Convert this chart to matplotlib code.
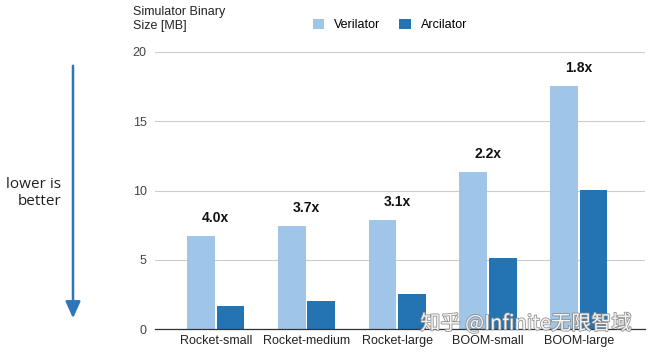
import matplotlib
matplotlib.use("Agg")
import matplotlib.pyplot as plt
import matplotlib.patheffects as pe
import numpy as np

categories = ["Rocket-small", "Rocket-medium", "Rocket-large", "BOOM-small", "BOOM-large"]
verilator = [6.7, 7.45, 7.85, 11.35, 17.55]
arcilator = [1.65, 2.0, 2.5, 5.15, 10.05]
speedups = ["4.0x", "3.7x", "3.1x", "2.2x", "1.8x"]
yticks = [0, 5, 10, 15, 20]

plt.rcParams['font.family'] = ['Liberation Sans', 'DejaVu Sans']

fig = plt.figure(figsize=(6.49, 3.53), dpi=100)
ax = fig.add_axes([155/649, 1-329/353, 490/649, (329-52)/353])

x = np.arange(len(categories))
w = 0.305
c_v = "#9fc5e8"
c_a = "#2473b3"
ax.bar(x - w/2 - 0.01, verilator, w, color=c_v, label="Verilator", zorder=3)
ax.bar(x + w/2 + 0.01, arcilator, w, color=c_a, label="Arcilator", zorder=3)

for xi, v, s in zip(x, verilator, speedups):
    ax.annotate(s, (xi, v), xytext=(0, 8), textcoords="offset points",
                ha="center", va="bottom", fontsize=10, fontweight="bold", color="#111111")

ax.set_xlim(-0.67, 4.73)
ax.set_ylim(0, 20)
ax.set_yticks(yticks)
ax.set_xticks(x)
ax.set_xticklabels(categories, fontsize=9, color="#222222")
ax.tick_params(axis="y", labelsize=9, colors="#444444", length=0, pad=6)
ax.tick_params(axis="x", length=0, pad=4)
ax.grid(axis="y", color="#cccccc", linewidth=0.8, zorder=0)
for sp in ["top", "right", "left"]:
    ax.spines[sp].set_visible(False)
ax.spines["bottom"].set_color("#333333")
ax.spines["bottom"].set_linewidth(0.9)
ax.spines["bottom"].set_zorder(4)

fig.text(133/649, 1-19/353, "Simulator Binary\nSize [MB]", fontsize=9, ha="left", va="center",
         color="#222222", linespacing=1.3)

fig.legend(loc="center", bbox_to_anchor=(390/649, 1-25/353), ncol=2, frameon=False,
           fontsize=9, handlelength=0.9, handleheight=0.9, columnspacing=1.5, handletextpad=0.8)

fig.text(61/649, 1-193/353, "lower is\nbetter", fontsize=11, ha="right", va="center",
         family=["Open Sans", "DejaVu Sans"], color="#222222", linespacing=1.2)
fig.patches.append(matplotlib.patches.FancyArrowPatch(
    (73/649, 1-63/353), (73/649, 1-321/353), transform=fig.transFigure,
    arrowstyle="-|>,head_length=10,head_width=4.5", color="#2e76b6", linewidth=1.8,
    mutation_scale=1))

fig.text(526/649, 1-324/353, "知乎 @Infinite无限智域", fontsize=14.5, ha="center", va="center",
         family=["Noto Sans CJK SC", "DejaVu Sans"], color="white", alpha=0.9,
         path_effects=[pe.withStroke(linewidth=1.2, foreground="#888888")])

fig.savefig("out.png", dpi=100, facecolor="white")
